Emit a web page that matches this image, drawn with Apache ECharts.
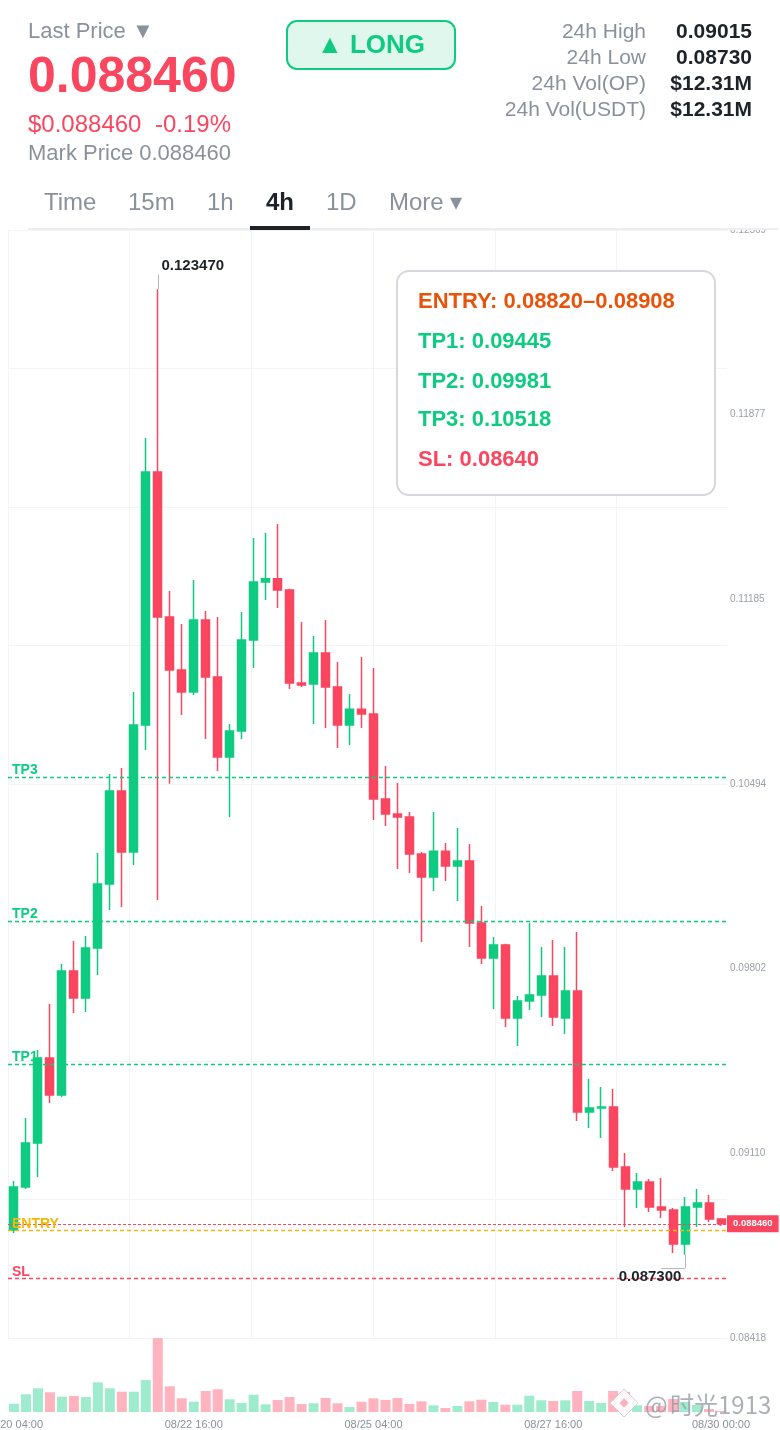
<!DOCTYPE html>
<html>
<head>
<meta charset="utf-8">
<style>html,body{margin:0;padding:0;background:#fff}#c{width:780px;height:1430px}</style>
<script src="https://cdn.jsdelivr.net/npm/echarts@6/dist/echarts.min.js"></script>
</head>
<body>
<div id="c"></div>
<script>
const times = [
"08/20 04:00","08/20 08:00","08/20 12:00","08/20 16:00","08/20 20:00",
"08/21 00:00","08/21 04:00","08/21 08:00","08/21 12:00","08/21 16:00","08/21 20:00",
"08/22 00:00","08/22 04:00","08/22 08:00","08/22 12:00","08/22 16:00","08/22 20:00",
"08/23 00:00","08/23 04:00","08/23 08:00","08/23 12:00","08/23 16:00","08/23 20:00",
"08/24 00:00","08/24 04:00","08/24 08:00","08/24 12:00","08/24 16:00","08/24 20:00",
"08/25 00:00","08/25 04:00","08/25 08:00","08/25 12:00","08/25 16:00","08/25 20:00",
"08/26 00:00","08/26 04:00","08/26 08:00","08/26 12:00","08/26 16:00","08/26 20:00",
"08/27 00:00","08/27 04:00","08/27 08:00","08/27 12:00","08/27 16:00","08/27 20:00",
"08/28 00:00","08/28 04:00","08/28 08:00","08/28 12:00","08/28 16:00","08/28 20:00",
"08/29 00:00","08/29 04:00","08/29 08:00","08/29 12:00","08/29 16:00","08/29 20:00",
"08/30 00:00"];
const xTickLabels = ["08/20 04:00","08/22 16:00","08/25 04:00","08/27 16:00","08/30 00:00"];
const opens = [
.08823,.08984,.09149,.09467,.09328,.09793,.09692,.09879,.10119,.10467,
.10239,.10715,.11662,.11119,.10921,.10838,.11108,.10894,.10595,.10692,
.11033,.11250,.11262,.11220,.10872,.10868,.10984,.10857,.10715,.10774,
.10756,.10437,.10381,.10370,.10231,.10145,.10242,.10186,.10205,.09973,
.09842,.09890,.09617,.09681,.09703,.09774,.09617,.09718,.09265,.09280,
.09283,.09059,.08976,.09002,.08909,.08898,.08770,.08909,.08924,.08864];
const closes = [
.08984,.09149,.09467,.09328,.09793,.09692,.09879,.10119,.10467,.10239,
.10715,.11662,.11119,.10921,.10838,.11108,.10894,.10595,.10692,.11033,
.11250,.11262,.11220,.10872,.10864,.10984,.10857,.10715,.10774,.10756,
.10437,.10381,.10370,.10231,.10145,.10242,.10186,.10205,.09973,.09842,
.09890,.09617,.09681,.09703,.09774,.09621,.09718,.09265,.09280,.09283,
.09059,.08976,.09002,.08909,.08898,.08770,.08909,.08924,.08864,.08846];
const lows = [
.08811,.08976,.09021,.09298,.09321,.09636,.09639,.09778,.10021,.10033,
.10190,.10621,.10059,.10494,.10752,.10827,.10662,.10542,.10370,.10662,
.10928,.11183,.11153,.10849,.10857,.10718,.10703,.10628,.10640,.10703,
.10359,.10336,.10175,.10160,.09902,.10093,.10130,.10055,.09883,.09819,
.09651,.09583,.09512,.09647,.09621,.09587,.09557,.09231,.09205,.09167,
.09044,.08834,.08905,.08890,.08868,.08736,.08730,.08834,.08853,.08838];
const highs = [
.09006,.09242,.09497,.09669,.09819,.09905,.09924,.10235,.10531,.10553,
.10838,.11790,.12347,.11217,.11093,.11258,.11142,.11119,.10718,.11138,
.11415,.11434,.11468,.11225,.11100,.11048,.11108,.10951,.10831,.10969,
.10928,.10561,.10497,.10389,.10239,.10389,.10272,.10329,.10269,.10036,
.09920,.09895,.09699,.09973,.09883,.09909,.09883,.09939,.09388,.09358,
.09351,.09111,.09036,.09014,.09017,.08905,.08946,.08976,.08954,.08866];
const volumes = [
8.3,17.7,23.7,19.7,15.3,16,15,29.7,23.7,20.3,
20.3,32,74,25.7,13.7,10.3,21,22.7,12.7,9,
17.3,7.7,12,15,8,8.7,14,8.7,5,10.3,
13.7,12,14,8,10.7,6.7,4,6,10.7,12.3,
10,7.3,7.3,16.3,11.7,11,11.7,21,11,9,
21,20,6.7,6,6,13,10,7,3,1];
const yTickValues = [.08418,.09110,.09802,.10494,.11185,.11877,.12569];
const yGridValues = [.08418,.08937,.09456,.09975,.10494,.11012,.11531,.12050,.12569];
const yMin = .08418, yMax = .12569;
const levelNames = ["TP3","TP2","TP1","ENTRY","SL"];
const levelValues = [.10518,.09981,.09445,.08820,.08640];
const lastPrice = .08846;
const highMark = {index:12, value:.12347, leaderTo:.12401, text:"0.123470"};
const lowMark = {index:56, value:.08730, leaderTo:.08680, leaderEndIndex:54, text:"0.087300"};
const statLabels = ["24h High","24h Low","24h Vol(OP)","24h Vol(USDT)"];
const statValues = ["0.09015","0.08730","$12.31M","$12.31M"];
const tabNames = ["Time","15m","1h","4h","1D","More ▾"];
const signalLines = ["ENTRY: 0.08820–0.08908","TP1: 0.09445","TP2: 0.09981","TP3: 0.10518","SL: 0.08640"];

const GREEN="#0ECB81", RED="#FB4660", GREY="#8A919C", DARK="#1E2329", ORANGE="#F3B70C";
const FONT='"Liberation Sans", Arial, sans-serif';
const levelColors=[GREEN,GREEN,GREEN,ORANGE,RED];

function t(text,x,y,size,fill,opt){
  opt=opt||{};
  return {type:'text',z:opt.z||110,silent:true,style:{text:text,x:x,y:y+1,fill:fill,
    font:(opt.bold?'bold ':'')+size+'px '+(opt.font||FONT),align:opt.align||'left',verticalAlign:'middle',
    shadowColor:opt.shadowColor,shadowBlur:opt.shadowBlur||0}};
}
function diamond(cx,cy,r,fill,stroke,w){
  return {type:'polygon',z:115,silent:true,shape:{points:[[cx,cy-r],[cx+r,cy],[cx,cy+r],[cx-r,cy]]},
    style:{fill:fill,stroke:stroke||null,lineWidth:w||0}};
}
const tabX=[44,128,207,266,326,389];
const signalY=[301,341,381,419,459];
const signalColor=["#E8530A",GREEN,GREEN,GREEN,RED];
const statY=[31,57,83,109];
const graphics=[
  {type:'rect',z:100,silent:true,shape:{x:0,y:0,width:780,height:229},style:{fill:'#fff'}},
  t("Last Price ▼",28,31,22,GREY),
  t("0.088460",28,77,50,RED,{bold:true}),
  t("$0.088460",28,124,24,RED),
  t("-0.19%",155,124,24,RED),
  t("Mark Price 0.088460",28,153,22,GREY),
  {type:'rect',z:110,silent:true,shape:{x:287,y:21,width:168,height:48,r:10},style:{fill:'#DFF7EC',stroke:GREEN,lineWidth:2}},
  t("▲ LONG",371,45,26,GREEN,{bold:true,align:'center'}),
  {type:'rect',z:110,silent:true,shape:{x:28,y:228,width:750,height:2},style:{fill:'#ECEEF0'}},
  {type:'rect',z:111,silent:true,shape:{x:250,y:226,width:60,height:4},style:{fill:DARK}},
  {type:'rect',z:110,silent:true,shape:{x:397,y:271,width:318,height:224,r:12},style:{fill:'#fff',stroke:'#D5D8DD',lineWidth:2}},
  diamond(624,1403,14,'rgba(255,255,255,.88)','rgba(190,190,195,.7)',1),
  diamond(624,1403,6,'rgba(250,170,180,.9)','rgba(255,255,255,.9)',2),
  diamond(613,1403,3,'rgba(255,255,255,.95)','rgba(190,190,195,.6)',.5),
  diamond(635,1403,3,'rgba(255,255,255,.95)','rgba(190,190,195,.6)',.5),
  t("@",645,1404,24,'rgba(150,155,165,.8)',{font:'"Noto Sans CJK SC"',shadowColor:'rgba(255,255,255,.9)',shadowBlur:2,z:115}),
  t("时光1913",670,1404,24,'rgba(150,155,165,.8)',{font:'"Noto Sans CJK SC"',shadowColor:'rgba(255,255,255,.9)',shadowBlur:2,z:115})
];
statLabels.forEach((s,i)=>graphics.push(t(s,646,statY[i],21,GREY,{align:'right'})));
statValues.forEach((s,i)=>graphics.push(t(s,752,statY[i],21,DARK,{align:'right',bold:true})));
tabNames.forEach((s,i)=>graphics.push(t(s,tabX[i],202,24,i===3?DARK:GREY,{bold:i===3})));
signalLines.forEach((s,i)=>graphics.push(t(s,418,signalY[i],22,signalColor[i],{bold:true,z:112})));

const candles=times.map((_,i)=>[opens[i],closes[i],lows[i],highs[i]]);
const vols=times.map((_,i)=>({value:volumes[i],itemStyle:{color:closes[i]>=opens[i]?'#9FEBCD':'#FFB3BF'}}));
const gridLine={show:true,lineStyle:{color:'#F3F4F6',width:1,type:'solid'}};
const levelLines=levelNames.map((n,i)=>({yAxis:levelValues[i],
  lineStyle:{color:levelColors[i],type:[4,3],width:1.4},
  label:{show:true,formatter:n,position:'insideStartTop',distance:[4,0],color:levelColors[i],fontSize:14,fontWeight:'bold',fontFamily:FONT}}));
const plainLabel={show:false};
const leader={color:'#B4B8BE',type:'solid',width:1};
const markData=levelLines.concat([
  {yAxis:lastPrice,lineStyle:{color:RED,type:[3,2],width:1.2},
   label:{show:true,position:'end',distance:0,formatter:lastPrice.toFixed(6),color:'#fff',backgroundColor:RED,fontSize:9.5,fontWeight:'bold',fontFamily:FONT,padding:[4,6,3,6]}},
  [{coord:[highMark.index,highMark.value],lineStyle:leader,label:plainLabel},{coord:[highMark.index,highMark.leaderTo]}],
  [{coord:[lowMark.index,lowMark.value],lineStyle:leader,label:plainLabel},{coord:[lowMark.index,lowMark.leaderTo]}],
  [{coord:[lowMark.index,lowMark.leaderTo],lineStyle:leader,label:plainLabel},{coord:[lowMark.leaderEndIndex,lowMark.leaderTo]}]
]);
const markLabel=(offset)=>({show:true,position:'inside',offset:offset,color:DARK,fontSize:15,fontWeight:'bold',fontFamily:FONT});
const option={
  animation:false,
  backgroundColor:'#fff',
  textStyle:{fontFamily:FONT},
  graphic:{elements:graphics},
  grid:[
    {left:8,top:230,width:719,height:1108,show:false,outerBoundsMode:'none'},
    {left:8,top:1338,width:719,height:74,show:false,outerBoundsMode:'none'}
  ],
  xAxis:[
    {type:'category',gridIndex:0,data:times,boundaryGap:true,axisLine:{show:false},axisTick:{show:false},axisLabel:{show:false},splitLine:{show:false}},
    {type:'category',gridIndex:1,data:times,boundaryGap:true,axisLine:{show:false},axisTick:{show:false},splitLine:{show:false},
     axisLabel:{color:GREY,fontSize:11,fontFamily:FONT,margin:7,hideOverlap:false,interval:(i,v)=>xTickLabels.includes(v)}},
    {type:'value',gridIndex:0,position:'top',min:0,max:719,interval:121.7,axisLine:{show:false},axisTick:{show:false},axisLabel:{show:false},
     splitLine:Object.assign({showMaxLine:false},gridLine)}
  ],
  yAxis:[
    {type:'value',gridIndex:0,position:'right',min:yMin,max:yMax,scale:true,axisLine:{show:false},axisTick:{show:false},splitLine:{show:false},
     axisLabel:{show:true,customValues:yTickValues,formatter:v=>v.toFixed(5),color:'#9AA0A8',fontSize:10,fontFamily:FONT,margin:3,showMinLabel:true,showMaxLabel:true}},
    {type:'value',gridIndex:0,position:'left',min:yMin,max:yMax,scale:true,axisLine:{show:false},axisLabel:{show:false},
     axisTick:{show:false,customValues:yGridValues},splitLine:gridLine},
    {type:'value',gridIndex:1,min:0,max:74,axisLine:{show:false},axisTick:{show:false},axisLabel:{show:false},splitLine:{show:false}}
  ],
  series:[
    {type:'candlestick',xAxisIndex:0,yAxisIndex:0,z:3,data:candles,barWidth:8.5,clip:false,
     itemStyle:{color:GREEN,color0:RED,borderColor:GREEN,borderColor0:RED,borderWidth:1.5},
     markLine:{silent:true,symbol:'none',z:6,animation:false,precision:6,data:markData},
     markPoint:{silent:true,symbol:'circle',symbolSize:0,animation:false,z:7,data:[
       {coord:[highMark.index,highMark.value],value:highMark.text,label:Object.assign(markLabel([35,-23]),{formatter:highMark.text})},
       {coord:[lowMark.index,lowMark.value],value:lowMark.text,label:Object.assign(markLabel([-35,22]),{formatter:lowMark.text})}
     ]}
    },
    {type:'bar',xAxisIndex:1,yAxisIndex:2,data:vols,barWidth:10,z:2}
  ]
};
const chart=echarts.init(document.getElementById('c'),null,{renderer:'canvas',width:780,height:1430});
chart.setOption(option);
</script>
</body>
</html>
